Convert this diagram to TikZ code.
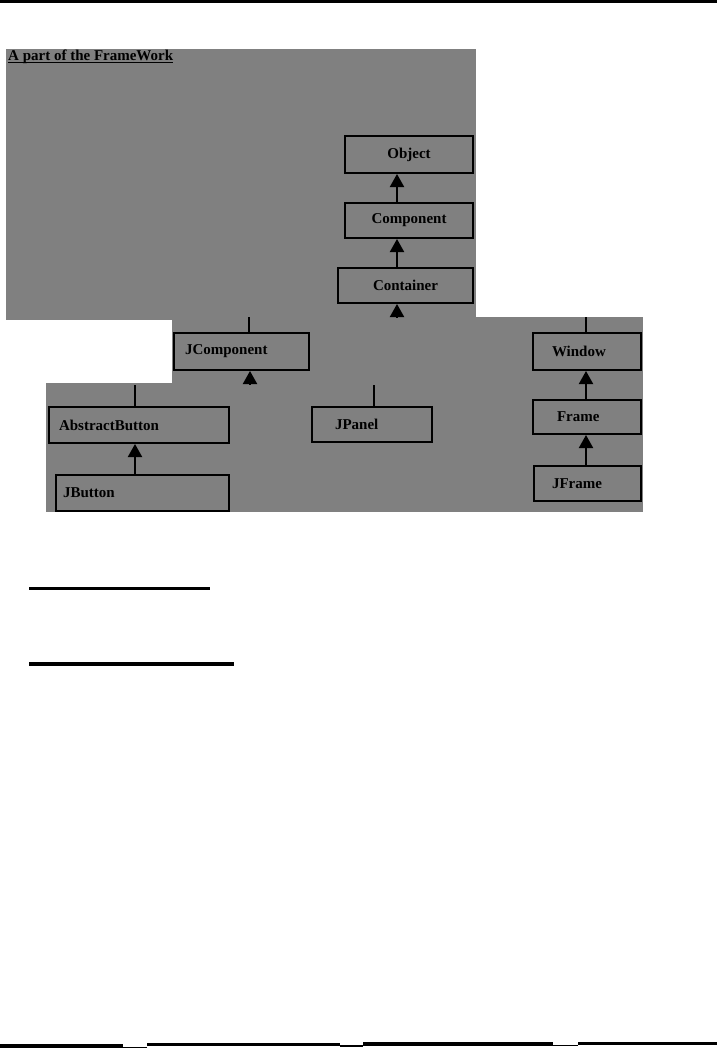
\documentclass[tikz,border=0pt]{standalone}
\usepackage{fontspec}
\setmainfont{Liberation Serif}
\usetikzlibrary{arrows.meta}
\definecolor{dgrey}{HTML}{808080}
\newcommand{\clsfont}{\fontsize{15}{18}\selectfont\bfseries}
\tikzset{
  cls/.style={draw=black, line width=2pt, fill=dgrey, inner ysep=0pt, font=\clsfont, text=black},
  ctr/.style 2 args={align=center, inner xsep=0pt, text width=#1, minimum height=#2},
  lft/.style n args={3}{align=left, inner xsep=#2, text width=#1, minimum height=#3},
  inh/.style={line width=2pt, -{Triangle[width=14pt,length=13pt]}},
  stub/.style={line width=2pt},
  rule/.style={line width=3.5pt},
}
\begin{document}
\begin{tikzpicture}[x=1pt,y=-1pt]
\useasboundingbox (0,0) rectangle (717,1049);
% top rule
\fill[black] (0,0) rectangle (717,3.3);
% grey background
\fill[dgrey] (6,49) rectangle (476,320);
\fill[dgrey] (172,317) rectangle (643,383);
\fill[dgrey] (46,383) rectangle (643,512);
% title
\node[anchor=base west, inner sep=0pt, font=\clsfont] (title) at (8,60.5) {A part of the FrameWork};
\draw[line width=1.4pt] ([yshift=-2.3pt]title.base west) -- ([yshift=-2.3pt]title.base east);
% class boxes
\node[cls, ctr={128pt}{37pt}] (obj) at (409,154.5) {Object};
\node[cls, ctr={128pt}{35pt}] (comp) at (409,220.5) {Component};
\node[cls, ctr={135pt}{35pt}] (cont) at (405.5,285.5) {Container};
\node[cls, lft={113pt}{11pt}{37pt}] (jcomp) at (241.5,351.5) {JComponent};
\node[cls, lft={70pt}{19pt}{37pt}] (win) at (587,351.5) {Window};
\node[cls, lft={60pt}{24pt}{34pt}] (frame) at (587,417) {Frame};
\node[cls, lft={71pt}{18pt}{35pt}] (jframe) at (587.5,483.5) {JFrame};
\node[cls, lft={160pt}{10pt}{36pt}] (abtn) at (139,425) {AbstractButton};
\node[cls, lft={159pt}{7pt}{36pt}] (jbtn) at (142.5,493) {JButton};
\node[cls, lft={74pt}{23pt}{35pt}] (jpanel) at (372,424.5) {JPanel};
% connector x positions and free ends
\coordinate (xa) at (397,0);
\coordinate (xw) at (586,0);
\coordinate (xb) at (135,0);
\coordinate (s0) at (397,317);
\coordinate (s1) at (249,317);
\coordinate (s2) at (250,384);
\coordinate (s3) at (586,317);
\coordinate (s4) at (374,385);
\coordinate (s5) at (135,385);
% inheritance arrows
\draw[inh] (comp.north -| xa) -- (obj.south -| xa);
\draw[inh] (cont.north -| xa) -- (comp.south -| xa);
\draw[inh] (s0) -- (cont.south -| s0);
\draw[inh] (s2) -- (jcomp.south -| s2);
\draw[inh] (frame.north -| xw) -- (win.south -| xw);
\draw[inh] (jframe.north -| xw) -- (frame.south -| xw);
\draw[inh] (jbtn.north -| xb) -- (abtn.south -| xb);
% stubs
\draw[stub] (jcomp.north -| s1) -- (s1);
\draw[stub] (win.north -| s3) -- (s3);
\draw[stub] (jpanel.north -| s4) -- (s4);
\draw[stub] (abtn.north -| s5) -- (s5);
% rules below the diagram
\draw[line width=3.3pt] (29,588.3) -- (210,588.3);
\draw[line width=4pt] (29,664) -- (234,664);
% bottom rule (stepped)
\draw[rule] (0,1046) -- (123,1046);
\draw[line width=1.2pt] (123,1047.2) -- (147,1047.2);
\draw[rule] (147,1044.7) -- (340,1044.7);
\draw[line width=1.2pt] (340,1046) -- (363,1046);
\draw[rule] (363,1044) -- (553,1044);
\draw[line width=1.2pt] (553,1045.3) -- (578,1045.3);
\draw[rule] (578,1043.3) -- (717,1043.3);
\end{tikzpicture}
\end{document}
